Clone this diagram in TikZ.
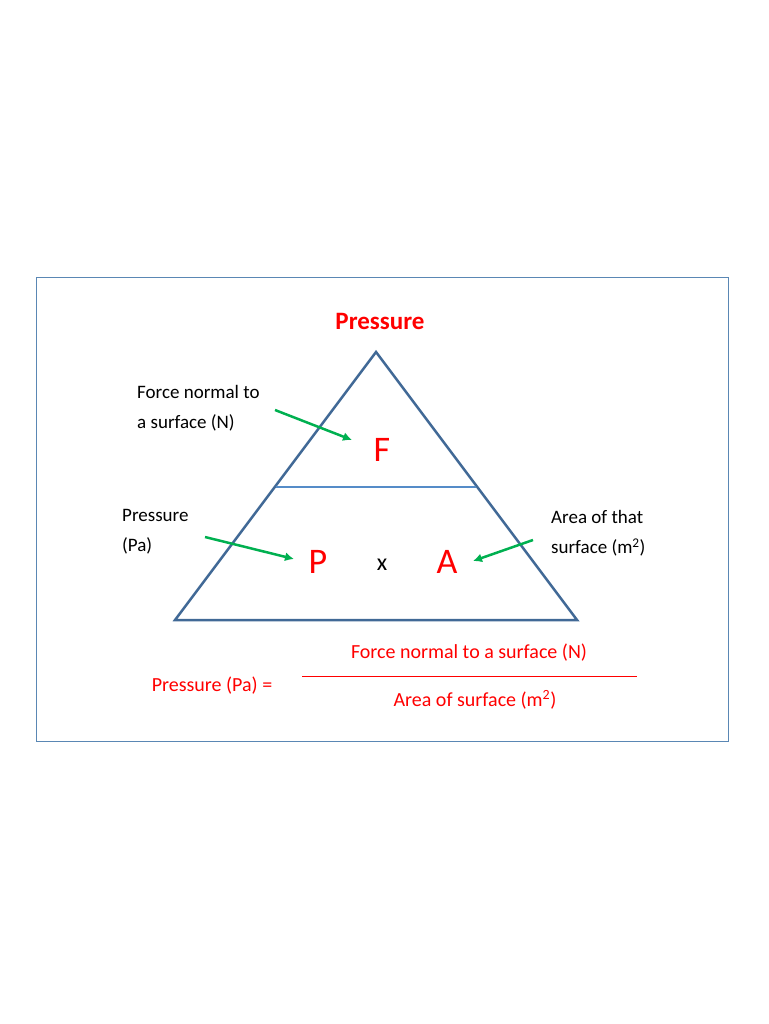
\documentclass[tikz,border=0pt]{standalone}
\usepackage{fontspec}
\setmainfont{Carlito}
\definecolor{tri}{RGB}{65,105,150}
\definecolor{frm}{RGB}{90,135,180}
\definecolor{mid}{RGB}{85,140,200}
\definecolor{grn}{RGB}{0,176,80}
\definecolor{rd}{RGB}{255,0,0}
\begin{document}
\begin{tikzpicture}[x=1pt,y=-1pt,
  lbl/.style={anchor=west,align=left,font=\fontsize{19}{30}\selectfont,inner sep=0},
  big/.style={text=rd,font=\fontsize{36}{40}\selectfont,inner sep=0},
  garrow/.style={grn,line width=2.5pt,-{Latex[length=9pt,width=9pt]}},
  ftxt/.style={text=rd,font=\fontsize{20}{24}\selectfont,inner sep=0}]
\usetikzlibrary{arrows.meta}
\useasboundingbox (0,0) rectangle (768,1024);
\draw[frm,line width=0.8pt] (36,277) rectangle (728,741);
\coordinate (ap) at (376,352);
\coordinate (bl) at (175,620);
\coordinate (br) at (577,620);
\draw[tri,line width=2.5pt,line join=miter] (ap) -- (br) -- (bl) -- cycle;
\coordinate (ml) at (276,487);
\coordinate (mr) at (476,487);
\draw[mid,line width=1.5pt] (ml) -- (mr);
\node[text=rd,font=\bfseries\fontsize{25}{30}\selectfont] (title) at (380,321) {Pressure};
\node[lbl] (fl) at (137,408) {Force normal to\\a surface (N)};
\node[lbl] (pl) at (122,532) {Pressure\\(Pa)};
\node[lbl] (al) at (551,533) {Area of that\\surface (m\textsuperscript{2})};
\node[big] (F) at (382,450) {F};
\node[big] (P) at (318,562) {P};
\node[font=\fontsize{24}{28}\selectfont,inner sep=0] (x) at (382,565) {x};
\node[big] (A) at (447,562) {A};
\coordinate (f0) at (275,410);
\coordinate (p0) at (205,537);
\coordinate (a0) at (533,540);
\draw[garrow] (f0) -- (352,440);
\draw[garrow] (p0) -- (294,559);
\draw[garrow] (a0) -- (473,561);
\node[ftxt] (lhs) at (212,686) {Pressure (Pa) =};
\node[ftxt] (num) at (469,653) {Force normal to a surface (N)};
\node[ftxt] (den) at (475,700) {Area of surface (m\textsuperscript{2})};
\coordinate (fa) at (302,676);
\coordinate (fb) at (637,676);
\draw[rd,line width=0.8pt] (fa) -- (fb);
\end{tikzpicture}
\end{document}
